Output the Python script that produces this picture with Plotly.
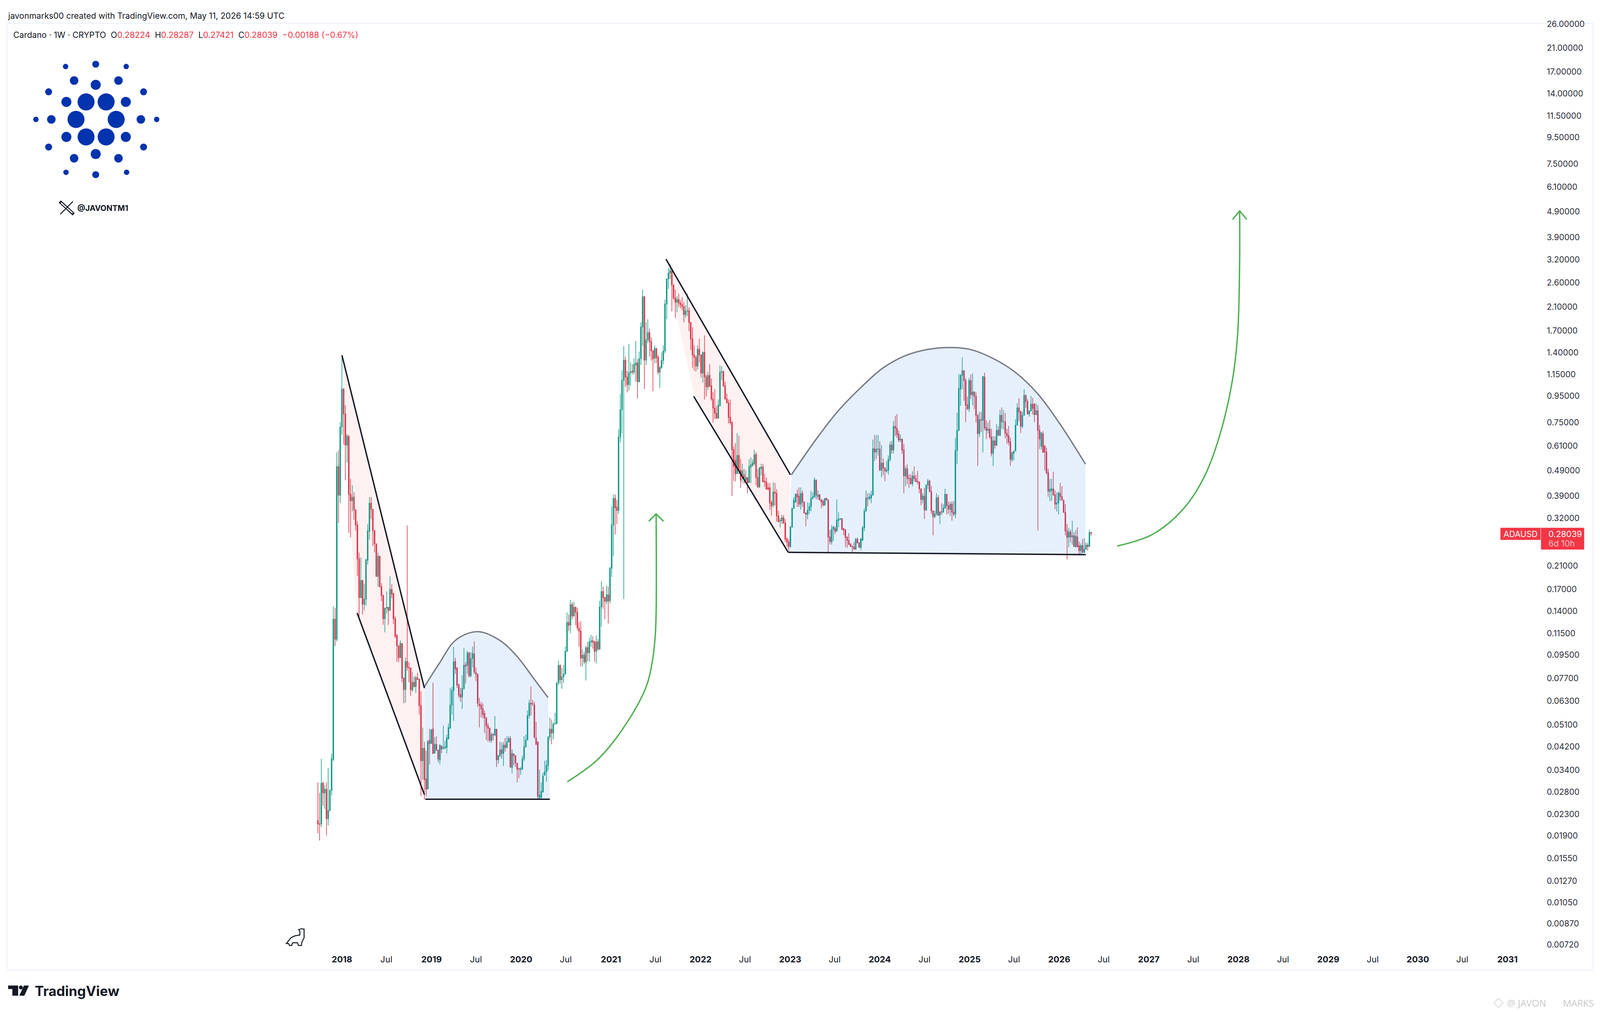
import plotly.graph_objects as go
import pandas as pd

W = 4146
H = 2591

# Weekly candles of ADAUSD
opens = [
    .0217, .0211, .0211, .0303, .0278, .0287, .0221, .0238, .0284, .0375, .1304, .109, .507, .393, .722,
    1.01, .81, .614, .664, .396, .374, .386, .345, .301, .223, .158, .184, .149, .156, .22,
    .285, .366, .347, .287, .255, .191, .228, .174, .161, .131, .144, .145, .141, .17, .164,
    .131, .113, .103, .0925, .105, .0772, .0697, .0895, .085, .0845, .0693, .0744, .0716, .0772, .0765,
    .0605, .037, .0413, .0315, .0288, .0444, .0431, .0491, .0396, .0428, .0407, .0373, .0422, .0413, .0415,
    .0416, .045, .0495, .0607, .0691, .0895, .0845, .0727, .0667, .0652, .0703, .0868, .0865, .0965, .0788,
    .0918, .0957, .081, .08, .0612, .0608, .0588, .0563, .0542, .0505, .0495, .0444, .0467, .0465, .049,
    .0373, .0387, .0408, .0395, .0425, .0416, .0438, .0451, .0348, .0393, .0387, .0362, .0345, .0342, .0343,
    .0376, .0419, .0445, .0553, .0617, .0615, .0608, .0453, .0438, .0266, .0267, .028, .0325, .0335, .0355,
    .0457, .049, .0474, .0512,
    .0515, .074, .0864, .0761, .0781, .08, .098, .1267, .1236, .1485, .1342, .145, .1387, .1205, .1173,
    .0922, .0947, .0889, .1012, .0967, .1063, .1076, .1065, .098, .1065, .1, .1455, .1668, .1582, .1527,
    .1617,
    .1537, .205, .301, .382, .353, .343, .66, .841, 1.092, 1.306, 1.124, 1.05, 1.17, 1.185,
    1.175, 1.25, 1.276, 1.08, 1.325, 1.755, 2.295, 1.308, 1.568, 1.67, 1.54, 1.42, 1.33, 1.45, 1.34,
    1.175, 1.22, 1.305, 1.42, 2.155, 2.69, 2.835, 2.9, 2.55, 2.27, 2.19, 2.24, 2.17, 2.14, 2.1,
    1.96, 2.02, 2.03, 1.83, 1.58, 1.37, 1.34, 1.24, 1.44, 1.37, 1.165, 1.4, 1.125, 1.03, 1.14, 1.04,
    .925, .853, .815, .78, .87, 1.175, 1.18, 1.04, .925, .893, .785, .75, .59, .536, .476,
    .56, .49, .471, .471, .449, .46, .44, .505, .512, .52, .563, .46, .423, .498, .505,
    .445, .442, .42, .42, .368,
    .36, .404, .4, .327, .312, .313, .321, .307, .266, .259, .249, .296, .35, .369, .397,
    .39, .363, .4, .37, .335, .331, .344, .355, .382, .387, .45, .388, .394, .378, .372,
    .36, .382, .376, .271, .26, .29, .292, .285, .314, .318, .319, .292, .288, .271, .263,
    .255, .249, .248, .243, .266, .257, .247, .263, .294, .341, .383, .382, .383, .393, .594,
    .577, .592, .593, .49, .523, .5, .487, .49, .54, .615, .587, .725, .713, .678, .642,
    .648, .587, .466, .497, .457, .456, .435, .466, .456, .445, .442, .416, .378, .39, .344,
    .43, .446, .406, .342, .325, .333, .384, .329, .339, .338, .35, .396, .358, .347, .363,
    .338, .332, .585, .7, 1.01, 1.14, 1.19, 1.09, .878, .848, 1.09, .96, .985, .947, .8,
    .68, .77, .765, 1.125, .718, .7, .708, .66, .57, .637, .612, .7, .67, .8, .755,
    .755, .682, .667, .632, .54, .57, .582, .733, .855, .827, .725, .8, .955, .905, .81,
    .833, .883, .883, .805, .833, .7, .607, .678, .61, .577, .48, .406, .41, .416, .394,
    .363, .367, .4, .388, .376, .337, .286, .27, .283, .271, .274, .249, .271, .251, .24,
    .251, .236, .243, .252, .249, .28224,
]
highs = [
    .0305, .0278, .0376, .0307, .0298, .0305, .0347, .0287, .0395, .146, .1438, .576, .586, .754, 1.339,
    1.02, .876, .678, .67, .455, .43, .404, .347, .312, .236, .226, .185, .179, .223, .304,
    .386, .387, .347, .288, .255, .236, .23, .18, .162, .144, .167, .145, .191, .178, .164,
    .134, .114, .103, .108, .105, .0778, .0929, .3, .0888, .0845, .0814, .0782, .0788, .0808, .0765,
    .0687, .0497, .0438, .0404, .0445, .0491, .0491, .074, .0456, .046, .0407, .0428, .0422, .0506, .0442,
    .0467, .0515, .0708, .0714, .102, .0925, .085, .0735, .0708, .0792, .101, .089, .0985, .0975, .0972,
    .1022, .107, .085, .08, .0647, .0625, .0617, .0578, .0545, .0517, .0497, .0476, .0474, .0552, .0491,
    .039, .0438, .0435, .0438, .0453, .046, .046, .046, .041, .0395, .0389, .0362, .0348, .035, .0387,
    .046, .0467, .0579, .0636, .0716, .0636, .0625, .0523, .0439, .0342, .0305, .0333, .037, .0373, .046,
    .0544, .0535, .0523, .0567,
    .0742, .0902, .0871, .0845, .0868, .1022, .1383, .1358, .1549, .1515, .1524, .1457, .1444, .1267, .128,
    .0998, .0976, .1027, .1065, .1107, .1133, .112, .1077, .1128, .1092, .1536, .1829, .1743, .1588, .1762,
    .1743,
    .208, .356, .396, .396, .376, .707, .97, 1.193, 1.48, 1.347, 1.188, 1.51, 1.283, 1.26,
    1.33, 1.55, 1.32, 1.41, 1.83, 2.45, 2.32, 1.83, 1.88, 1.73, 1.6, 1.43, 1.49, 1.45, 1.37,
    1.245, 1.4, 1.49, 2.24, 2.7, 2.96, 3.07, 2.93, 2.56, 2.45, 2.31, 2.36, 2.23, 2.29, 2.19,
    2.13, 2.36, 2.09, 1.83, 1.75, 1.49, 1.36, 1.49, 1.58, 1.37, 1.41, 1.63, 1.15, 1.18, 1.26, 1.11,
    .985, 1.01, .87, .92, 1.245, 1.24, 1.19, 1.08, .97, .92, .92, .76, .607, .625, .683,
    .668, .544, .52, .496, .49, .46, .54, .55, .54, .588, .575, .496, .504, .52, .518,
    .476, .46, .438, .438, .376,
    .44, .438, .415, .342, .322, .33, .329, .318, .27, .266, .298, .35, .386, .399, .413,
    .421, .421, .41, .372, .338, .369, .367, .408, .403, .46, .45, .41, .397, .378, .378,
    .383, .384, .379, .288, .301, .298, .298, .378, .338, .321, .32, .293, .291, .272, .28,
    .255, .251, .259, .268, .27, .259, .267, .299, .35, .41, .4, .4, .408, .645, .672,
    .672, .672, .635, .615, .545, .504, .533, .56, .633, .637, .761, .797, .808, .7, .675,
    .648, .62, .51, .517, .473, .473, .486, .508, .472, .488, .445, .417, .4, .42, .432,
    .455, .45, .426, .343, .342, .4, .393, .34, .366, .363, .416, .397, .371, .371, .372,
    .373, .656, .818, 1.155, 1.155, 1.34, 1.19, 1.115, .945, 1.115, 1.15, 1.16, .99, .98, .81,
    .825, .825, 1.135, 1.17, .765, .75, .767, .71, .665, .665, .74, .725, .84, .858, .837,
    .817, .71, .728, .656, .575, .582, .773, .892, .932, .833, .827, 1.01, .96, .925, .833,
    .95, .935, .89, .89, .875, .735, .688, .695, .61, .6, .498, .455, .455, .484, .41,
    .403, .406, .438, .426, .377, .363, .304, .293, .289, .313, .283, .288, .295, .26, .256,
    .266, .268, .258, .257, .289, .28287,
]
lows = [
    .0194, .0182, .0205, .0248, .0241, .019, .0208, .0236, .0272, .0369, .1027, .107, .3065, .366, .672,
    .617, .449, .526, .281, .27, .34, .316, .287, .192, .133, .157, .136, .141, .147, .212,
    .265, .318, .25, .236, .19, .174, .173, .153, .124, .116, .137, .124, .141, .157, .125,
    .11, .0893, .0889, .0925, .0744, .0617, .0621, .0825, .0744, .066, .0687, .071, .0677, .0762, .0558,
    .027, .0313, .0262, .027, .0287, .0358, .0431, .0393, .0396, .0404, .0365, .0358, .0396, .041, .041,
    .0395, .0447, .0491, .0558, .0527, .0801, .0708, .0647, .0625, .0587, .0697, .0735, .0801, .0778, .0778,
    .085, .0801, .0752, .0598, .0498, .0544, .054, .0474, .0445, .0439, .0435, .0435, .0442, .046, .035,
    .036, .0382, .0376, .0353, .0402, .0413, .0435, .0348, .0331, .0355, .035, .0305, .0317, .0326, .0342,
    .0369, .0416, .0444, .054, .0553, .0602, .045, .0425, .0262, .0262, .0265, .028, .0325, .0307, .0339,
    .0442, .0428, .0447, .0512,
    .0512, .0724, .0733, .0702, .074, .0797, .0973, .1173, .1151, .1305, .1332, .1235, .118, .102, .0856,
    .0858, .0872, .0756, .0897, .0892, .102, .1003, .0893, .0879, .0985, .0992, .122, .143, .1305, .1492,
    .1255,
    .15, .19, .229, .277, .304, .332, .629, .681, .156, 1.03, .98, .995, 1.04, 1.15,
    1.15, 1.08, .93, 1.07, 1.25, 1.485, 1.01, 1.25, 1.52, 1.35, 1.3, .99, 1.27, 1.27, 1.15,
    1.02, 1.21, 1.26, 1.39, 1.88, 2.46, 2.69, 2.02, 2.24, 1.9, 2.0, 2.1, 2.07, 2.03, 1.83,
    1.9, 1.93, 1.69, 1.43, 1.22, 1.19, 1.18, 1.2, 1.28, 1.12, 1.07, .92, .945, 1.0, 1.03, .91,
    .75, .775, .775, .775, .87, 1.095, 1.03, .92, .89, .745, .735, .39, .446, .444, .474,
    .474, .419, .438, .434, .444, .4, .438, .438, .507, .513, .43, .42, .42, .469, .44,
    .423, .414, .411, .345, .328,
    .353, .358, .31, .309, .295, .305, .305, .259, .248, .24, .246, .295, .348, .368, .354,
    .354, .345, .354, .334, .298, .317, .332, .341, .379, .384, .379, .377, .374, .35, .356,
    .358, .375, .234, .254, .253, .261, .278, .285, .295, .315, .288, .275, .248, .246, .252,
    .248, .237, .243, .242, .256, .246, .241, .262, .285, .34, .356, .375, .366, .392, .533,
    .543, .56, .487, .46, .468, .445, .48, .472, .53, .568, .57, .665, .654, .63, .63,
    .568, .4, .425, .433, .42, .433, .425, .445, .442, .433, .4, .36, .366, .318, .342,
    .414, .404, .332, .275, .32, .327, .327, .304, .33, .336, .35, .331, .333, .327, .313,
    .326, .32, .518, .695, .87, 1.01, .91, .755, .838, .825, .925, .875, .844, .75, .51,
    .66, .69, .575, .7, .648, .68, .648, .555, .51, .595, .61, .665, .665, .71, .705,
    .652, .62, .612, .51, .528, .535, .581, .73, .76, .683, .712, .797, .855, .805, .79,
    .827, .805, .752, .8, .287, .593, .59, .573, .49, .473, .387, .373, .373, .392, .347,
    .34, .331, .374, .375, .336, .275, .222, .248, .258, .253, .248, .246, .248, .23, .232,
    .235, .236, .243, .24, .248, .27421,
]
closes = [
    .0211, .021, .0303, .0278, .0287, .0221, .0238, .0284, .0376, .1304, .109, .507, .393, .722, 1.01,
    .81, .614, .664, .396, .374, .386, .345, .301, .223, .158, .184, .149, .156, .221, .286,
    .366, .347, .287, .255, .191, .228, .174, .161, .131, .144, .145, .141, .17, .163, .131,
    .112, .103, .0925, .105, .0772, .0697, .0895, .085, .0845, .0697, .0744, .0716, .0776, .0762, .0605,
    .037, .0413, .0313, .0287, .0439, .0431, .0487, .0395, .0428, .0407, .0376, .0425, .041, .0416, .0419,
    .0453, .0497, .0607, .0691, .0892, .0838, .0727, .0663, .0652, .0703, .0865, .0857, .0965, .0788, .0918,
    .0962, .0814, .08, .0617, .0605, .0587, .0558, .0542, .0505, .0495, .0444, .0467, .0465, .049, .0373,
    .0387, .0408, .0395, .0425, .0416, .0438, .0451, .035, .0395, .0387, .0363, .0343, .0343, .0345, .0376,
    .0419, .0445, .0553, .0617, .0613, .0613, .0456, .0428, .027, .0272, .0282, .0323, .0335, .0355, .0457,
    .049, .0474, .0512, .0515,
    .074, .0864, .0761, .0781, .08, .098, .1267, .1236, .1485, .1342, .145, .1387, .121, .1173, .0922,
    .0947, .0892, .1012, .0967, .1065, .1076, .1064, .098, .1065, .1, .1455, .1668, .1578, .1527, .1622,
    .1532,
    .205, .301, .382, .351, .343, .66, .841, 1.092, 1.306, 1.124, 1.05, 1.17, 1.18, 1.175,
    1.258, 1.276, 1.08, 1.325, 1.757, 2.295, 1.308, 1.568, 1.67, 1.54, 1.42, 1.32, 1.45, 1.335, 1.175,
    1.224, 1.305, 1.42, 2.155, 2.69, 2.835, 2.9, 2.55, 2.27, 2.19, 2.24, 2.17, 2.14, 2.1, 1.96,
    2.02, 2.03, 1.83, 1.58, 1.37, 1.34, 1.24, 1.44, 1.37, 1.165, 1.4, 1.125, 1.03, 1.14, 1.035, .925,
    .853, .815, .78, .875, 1.175, 1.18, 1.04, .925, .893, .785, .75, .59, .507, .476, .56,
    .49, .449, .488, .46, .46, .439, .507, .515, .525, .563, .46, .423, .502, .505, .444,
    .442, .415, .414, .367, .357,
    .404, .4, .327, .31, .314, .322, .306, .266, .259, .249, .297, .35, .376, .397, .387,
    .363, .399, .37, .335, .332, .344, .355, .382, .388, .45, .393, .394, .378, .37, .36,
    .382, .376, .271, .26, .29, .297, .285, .315, .318, .319, .29, .288, .27, .263, .254,
    .249, .248, .243, .266, .257, .247, .267, .294, .341, .383, .381, .387, .393, .594, .577,
    .592, .593, .492, .523, .5, .487, .492, .54, .615, .587, .725, .713, .675, .642, .648,
    .587, .466, .497, .456, .455, .435, .466, .456, .443, .442, .416, .378, .39, .345, .43,
    .446, .406, .342, .325, .333, .384, .329, .339, .338, .351, .396, .358, .347, .363, .338,
    .332, .585, .7, 1.014, 1.14, 1.19, 1.09, .875, .848, 1.09, .96, .985, .947, .8, .68,
    .77, .767, 1.13, .715, .7, .708, .66, .57, .637, .612, .7, .67, .8, .755, .757,
    .682, .665, .63, .54, .575, .582, .733, .855, .825, .725, .8, .955, .905, .81, .833,
    .883, .85, .805, .833, .7, .648, .685, .575, .577, .48, .407, .414, .416, .393, .363,
    .367, .4, .388, .376, .337, .286, .27, .283, .271, .274, .249, .273, .248, .24, .251,
    .236, .243, .252, .249, .282, .28039,
]

# Price axis labels
price_ticks = [26, 21, 17, 14, 11.5, 9.5, 7.5, 6.1, 4.9, 3.9, 3.2, 2.6, 2.1, 1.7, 1.4, 1.15, .95, .75, .61, .49,
               .39, .32, .21, .17, .14, .115, .095, .077, .063, .051, .042, .034, .028, .023, .019, .0155,
               .0127, .0105, .0087, .0072]

time_ticks = []
time_labels = []
for year in range(2018, 2032):
    time_ticks.append(f'{year}-01-01')
    time_labels.append(f'<b>{year}</b>')
    if year < 2031:
        time_ticks.append(f'{year}-07-01')
        time_labels.append('Jul')

# Drawings on the chart
wedge1_top_x = ['2018-01-01', '2018-12-03']
wedge1_top_y = [1.366, .0706]
wedge1_bottom_x = ['2018-03-04', '2018-12-03']
wedge1_bottom_y = [.1378, .02738]
wedge1_fill_x = ['2018-01-01', '2018-12-03', '2018-12-03', '2018-03-03', '2018-02-07']
wedge1_fill_y = [1.366, .0706, .02738, .1349, .2763]

cup1_x = ['2018-12-03', '2019-01-31', '2019-04-11', '2019-07-08', '2019-10-03', '2019-12-13', '2020-02-21', '2020-04-20']
cup1_y = [.0714, .0875, .1085, .1167, .1085, .0942, .077, .0648]
base1_x = ['2018-12-07', '2020-04-27']
base1_y = [.02627, .02627]

wedge2_top_x = ['2021-08-13', '2023-01-02']
wedge2_top_y = [3.21, .471]
wedge2_bottom_x = ['2021-12-04', '2022-12-24']
wedge2_bottom_y = [.947, .2364]
wedge2_fill_x = ['2021-08-13', '2023-01-02', '2022-12-24', '2021-12-06', '2021-09-23']
wedge2_fill_y = [3.21, .471, .2364, .963, 2.0]

cup2_x = ['2023-01-06', '2023-04-17', '2023-07-16', '2023-10-15', '2024-01-12', '2024-04-11', '2024-07-11',
          '2024-10-23', '2025-01-08', '2025-04-08', '2025-07-06', '2025-10-05', '2026-01-03', '2026-04-18']
cup2_y = [.471, .647, .833, 1.022, 1.215, 1.356, 1.436, 1.462, 1.434, 1.324, 1.173, .97, .743, .518]
base2_x = ['2022-12-24', '2026-04-19']
base2_y = [.2364, .2315]

arrow1_x = ['2020-07-07', '2020-11-05', '2021-02-17', '2021-05-23', '2021-06-19', '2021-06-30', '2021-07-04', '2021-07-04']
arrow1_y = [.0307, .0372, .049, .0709, .0903, .1112, .1387, .3327]
head1_x = ['2021-06-04', '2021-07-04', '2021-08-03']
head1_y = [.3117, .3327, .3117]

arrow2_x = ['2026-08-25', '2027-01-18', '2027-05-23', '2027-08-14', '2027-10-16', '2027-12-08', '2027-12-29', '2028-01-06', '2028-01-06']
arrow2_y = [.25, .278, .349, .461, .665, 1.1, 1.66, 3.14, 4.93]
head2_x = ['2027-12-08', '2028-01-06', '2028-02-04']
head2_y = [4.57, 4.93, 4.57]

dates = pd.date_range(end='2026-05-11', periods=len(closes), freq='7D')

UP = '#089981'
DOWN = '#f23645'
FONT = 'Inter'


def px(x):
    return x / W


def py(y):
    return 1 - y / H


def path(points, close=True):
    d = 'M ' + ' L '.join(f'{px(x):.5f},{py(y):.5f}' for x, y in points)
    return d + (' Z' if close else '')


def circle(x, y, r, color='#0033ad'):
    return dict(type='circle', xref='paper', yref='paper', x0=px(x - r), x1=px(x + r), y0=py(y + r), y1=py(y - r),
                fillcolor=color, line=dict(width=0))


def text(x, y, s, size=21, color='#131722', anchor='left', weight=None, family=FONT):
    return dict(xref='paper', yref='paper', x=px(x), y=py(y), text=s, showarrow=False, xanchor=anchor, yanchor='middle',
                align=anchor, font=dict(family=family, size=size, color=color, weight=weight))


fig = go.Figure()

fig.add_trace(go.Candlestick(
    x=dates, open=opens, high=highs, low=lows, close=closes,
    increasing=dict(line=dict(color=UP, width=1.5), fillcolor=UP),
    decreasing=dict(line=dict(color='#d42c40', width=1.5), fillcolor='#f23f52'),
    whiskerwidth=0, showlegend=False,
))


def add_fill(x, y, color):
    fig.add_trace(go.Scatter(x=x, y=y, mode='lines', fill='toself', fillcolor=color, line=dict(width=0),
                             showlegend=False, hoverinfo='skip'))


def add_line(x, y, color, width, smooth=False):
    fig.add_trace(go.Scatter(x=x, y=y, mode='lines', showlegend=False, hoverinfo='skip',
                             line=dict(color=color, width=width, shape='spline' if smooth else 'linear')))


BLUE_FILL = 'rgba(30,120,240,0.11)'
RED_FILL = 'rgba(242,54,69,0.07)'

add_fill(wedge1_fill_x, wedge1_fill_y, RED_FILL)
add_fill(wedge2_fill_x, wedge2_fill_y, RED_FILL)
add_fill(cup1_x + [base1_x[1], base1_x[0]], cup1_y + base1_y, BLUE_FILL)
add_fill(cup2_x + [base2_x[1], base2_x[0]], cup2_y + [base2_y[1], base2_y[0]], BLUE_FILL)

add_line(cup1_x, cup1_y, '#787b86', 3.5, smooth=True)
add_line(cup2_x, cup2_y, '#787b86', 3.5, smooth=True)
for lx, ly in [(wedge1_top_x, wedge1_top_y), (wedge1_bottom_x, wedge1_bottom_y), (base1_x, base1_y),
               (wedge2_top_x, wedge2_top_y), (wedge2_bottom_x, wedge2_bottom_y), (base2_x, base2_y)]:
    add_line(lx, ly, '#131722', 3.5)

add_line(arrow1_x, arrow1_y, '#4caf50', 3.5, smooth=True)
add_line(head1_x, head1_y, '#4caf50', 3.5)
add_line(arrow2_x, arrow2_y, '#4caf50', 3.5, smooth=True)
add_line(head2_x, head2_y, '#4caf50', 3.5)

# Cardano logo
logo_dots = [
    (223, 251, 22), (275, 251, 22), (197, 296, 22), (301, 296, 22), (223, 341, 22), (275, 341, 22),
    (172, 251, 13), (326, 251, 13), (172, 341, 13), (326, 341, 13), (248, 207, 13), (248, 385, 13),
    (133, 296, 11), (365, 296, 11), (192, 196, 11), (307, 196, 11), (192, 396, 11), (307, 396, 11),
    (126, 225, 9), (372, 225, 9), (126, 367, 9), (372, 367, 9), (248, 154, 9), (248, 438, 9),
    (93, 296, 7), (406, 296, 7), (170, 160, 7), (327, 160, 7), (171, 432, 7), (328, 432, 7),
]
shapes = [circle(x, y, r) for x, y, r in logo_dots]

# Pane frame
shapes.append(dict(type='rect', xref='paper', yref='paper', x0=px(18), x1=px(4128), y0=py(2483), y1=py(49),
                   line=dict(color='#f0f3fa', width=3), fillcolor='rgba(0,0,0,0)', layer='below'))

# X logo
shapes.append(dict(type='path', xref='paper', yref='paper', path=path([(155, 507), (191, 540)], False),
                   line=dict(color='#131722', width=8)))
shapes.append(dict(type='path', xref='paper', yref='paper', path=path([(158, 510), (188, 537)], False),
                   line=dict(color='white', width=3)))
shapes.append(dict(type='path', xref='paper', yref='paper', path=path([(189, 507), (156, 540)], False),
                   line=dict(color='#131722', width=2.5)))

# Last price tags
shapes.append(dict(type='rect', xref='paper', yref='paper', x0=px(3888), x1=px(3992), y0=py(1377), y1=py(1346),
                   fillcolor=DOWN, line=dict(width=0)))
shapes.append(dict(type='rect', xref='paper', yref='paper', x0=px(3993), x1=px(4105), y0=py(1402), y1=py(1346),
                   fillcolor=DOWN, line=dict(width=0)))

# Dino
dino = [(781, 2377), (788, 2378), (788, 2400), (782, 2412), (781, 2420), (773, 2420), (771, 2413), (758, 2413),
        (756, 2420), (750, 2420), (748, 2415), (742, 2415), (754, 2400), (765, 2395), (777, 2393), (777, 2383), (774, 2379)]
shapes.append(dict(type='path', xref='paper', yref='paper', path=path(dino), line=dict(color='#131722', width=2.5),
                   fillcolor='white'))

# TradingView mark
for poly in ([(21, 2523), (47, 2523), (47, 2549), (32, 2549), (32, 2532), (21, 2532)],
             [(62, 2523), (75, 2523), (63, 2549), (50, 2549)]):
    shapes.append(dict(type='path', xref='paper', yref='paper', path=path(poly), fillcolor='#131722', line=dict(width=0)))
shapes.append(circle(54, 2528, 5, '#131722'))

# Watermark diamond
shapes.append(dict(type='path', xref='paper', yref='paper', line=dict(color='#cfcfcf', width=1.5),
                   path=path([(3883, 2556), (3871, 2568), (3883, 2580), (3895, 2568)])))

red = f'<span style="color:{DOWN}">'
legend = (f'Cardano · 1W · CRYPTO  O{red}0.28224</span>  H{red}0.28287</span>  L{red}0.27421</span>  '
          f'C{red}0.28039</span>  {red}−0.00188 (−0.67%)</span>')

annotations = [
    text(18, 29, 'javonmarks00 created with TradingView.com, May 11, 2026 14:59 UTC', size=21.3),
    text(32, 78, legend, size=21.3),
    text(198, 524, '@JAVONTM1', size=20, weight='bold'),
    text(3940, 1362, 'ADAUSD', size=21, color='white', anchor='center'),
    text(4010, 1362, '0.28039', size=21.5, color='white'),
    text(4010, 1386, '6d 10h', size=21.5, color='#fbc4c9'),
    text(88, 2537, 'TradingView', size=35, weight='bold'),
    text(3903, 2567, '@ JAVON', size=24, color='#c8c8c8', family='Open Sans'),
    text(4132, 2567, 'MARKS', size=24, color='#c8c8c8', family='Open Sans', anchor='right'),
]

fig.update_layout(
    autosize=True,
    margin=dict(l=0, r=0, t=0, b=0, pad=0),
    paper_bgcolor='white',
    plot_bgcolor='white',
    showlegend=False,
    boxgap=0.55,
    boxgroupgap=0,
    font=dict(family=FONT, color='#131722'),
    shapes=shapes,
    annotations=annotations,
    xaxis=dict(
        domain=[px(18), px(3995)],
        range=['2014-04-07 10:00', '2031-05-20 14:00'],
        rangeslider=dict(visible=False),
        type='date',
        tickmode='array',
        tickvals=time_ticks,
        ticktext=time_labels,
        tickfont=dict(family=FONT, size=22, color='#131722'),
        showgrid=False,
        zeroline=False,
        showline=False,
        ticks='',
    ),
    yaxis=dict(
        domain=[py(2440), py(49)],
        type='log',
        range=[-2.1757, 1.4176],
        side='right',
        tickmode='array',
        tickvals=price_ticks,
        ticktext=[f'{v:.5f}' for v in price_ticks],
        tickfont=dict(family=FONT, size=21, color='#2a2e39'),
        ticklabelstandoff=12,
        showgrid=False,
        zeroline=False,
        showline=False,
        ticks='',
    ),
)

fig.write_html("out.html", default_width='100vw', default_height='100vh', config=dict(displayModeBar=False, responsive=True),
               post_script="document.body.style.margin='0';document.body.style.overflow='hidden';")
